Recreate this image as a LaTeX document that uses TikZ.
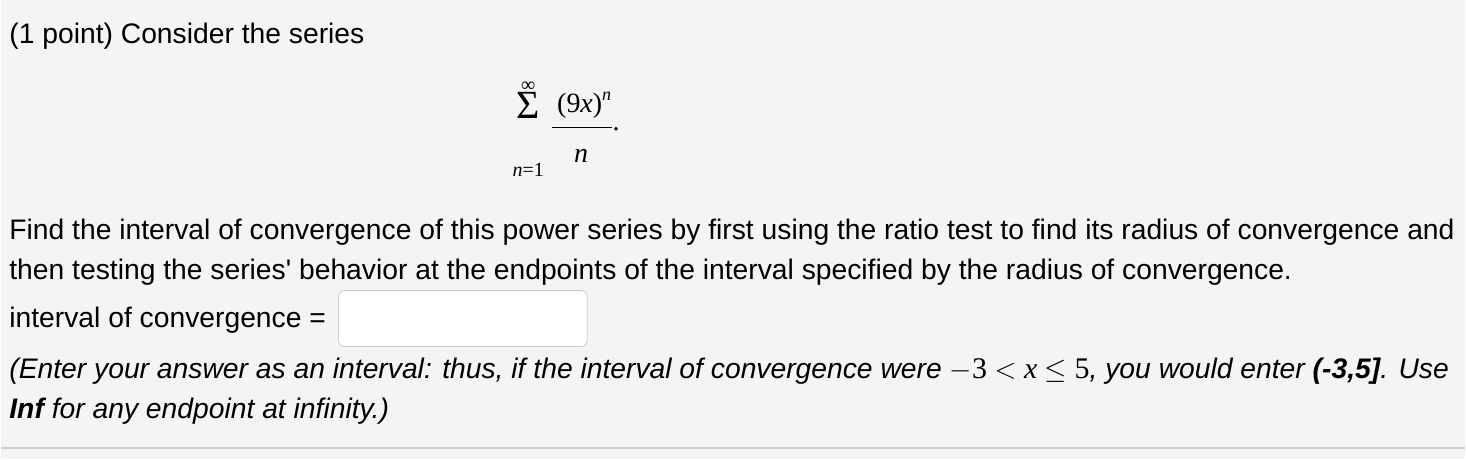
\documentclass[tikz,border=0pt]{standalone}
\usepackage{fontspec}
\usepackage{textcomp}
\setmainfont{Liberation Sans}
\newfontfamily\mserif{Liberation Serif}
\begin{document}
\begin{tikzpicture}[x=0.5pt,y=-0.5pt,
  txt/.style={anchor=base west,inner sep=0pt,font=\fontsize{14.15}{16}\selectfont},
  mth/.style={inner sep=0pt,font=\fontsize{14}{16}\mserif}]
\definecolor{bg}{HTML}{F4F4F4}
\definecolor{bd}{HTML}{CCCCCC}
\fill[bg] (0,0) rectangle (1466,460);
\draw[bd,line width=1pt] (0,449) -- (1466,449);
\node[txt] (t1) at (8,44) {(1 point) Consider the series};
\node[mth,anchor=base,font=\fontsize{20}{22}\mserif] (sig) at (528,119) {Σ};
\node[mth,anchor=base,font=\fontsize{10}{11}\mserif] (inf) at (528,92) {∞};
\node[mth,anchor=base,font=\fontsize{10}{11}\mserif] (low) at (528,177) {\itshape n\upshape =1};
\node[mth,anchor=base] (num) at (584,113) {(9\itshape x\upshape )\raisebox{6pt}{\fontsize{9}{10}\selectfont\itshape n}};
\node[mth,anchor=base] (den) at (581,163) {\itshape n};
\draw[line width=0.6pt] (552,128) -- (612,128);
\node[mth,anchor=base] (dot) at (616,131) {.};
\node[txt] (t2) at (8,240) {Find the interval of convergence of this power series by first using the ratio test to find its radius of convergence and};
\node[txt] (t3) at (8,280) {then testing the series\textquotesingle\ behavior at the endpoints of the interval specified by the radius of convergence.};
\node[txt] (t4) at (8,328) {interval of convergence =};
\draw[bd,fill=white,rounded corners=3pt] (338,291) rectangle (587,347);
\node[txt] (t5) at (8,379) {\itshape (Enter your answer as an interval: thus, if the interval of convergence were {\upshape\mserif\fontsize{15}{18}\selectfont $-$3 $<$ \itshape x \upshape $\leq$ 5}, you would enter \bfseries (-3,5]\mdseries . Use};
\node[txt] (t6) at (8,419) {\itshape\bfseries Inf\mdseries\ for any endpoint at infinity.)};
\end{tikzpicture}
\end{document}
